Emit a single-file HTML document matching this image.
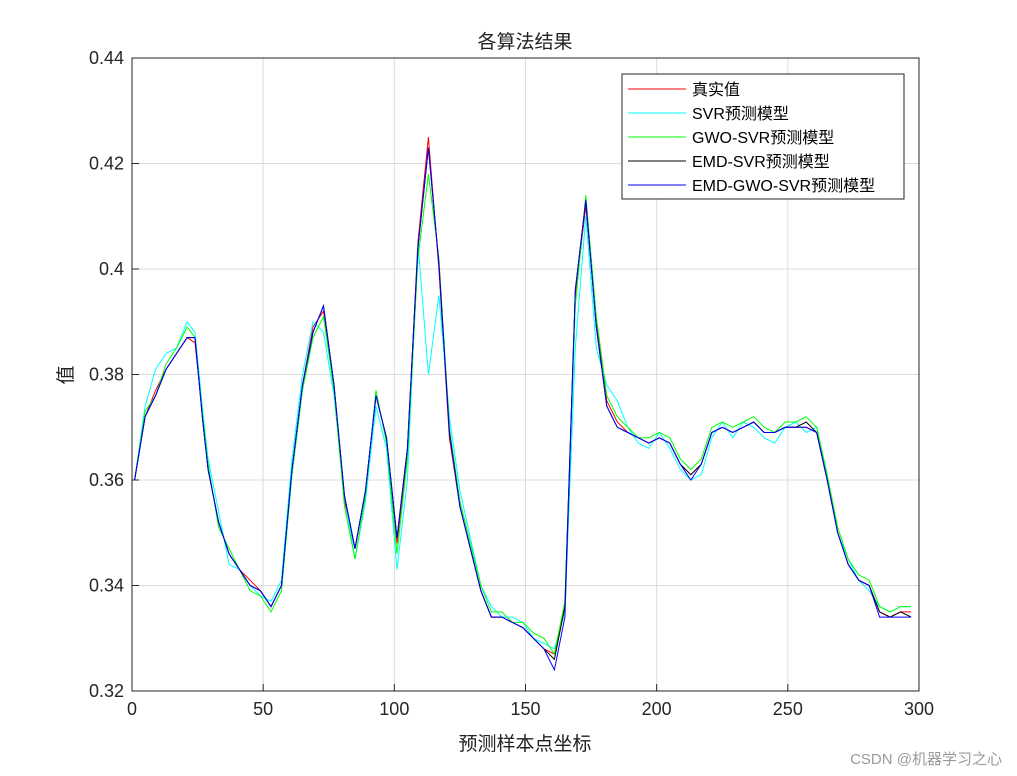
<!DOCTYPE html>
<html><head><meta charset="utf-8"><style>
body{margin:0;background:#fff;}
svg{display:block;font-family:"Liberation Sans","Noto Sans CJK SC",sans-serif;}
</style></head><body>
<svg id="chart" width="1017" height="776">
<rect x="0" y="0" width="1017" height="776" fill="#fff"/>
<rect x="132" y="58" width="787" height="633" fill="#fff" stroke="none"/>
<g id="grid"></g>
<g id="series"></g>
<rect x="132" y="58" width="787" height="633" fill="none" stroke="#262626" stroke-width="1"/>
<g id="ticks"></g>
<text x="525" y="48" text-anchor="middle" font-size="19" fill="#222">各算法结果</text>
<text x="525" y="750" text-anchor="middle" font-size="19" fill="#222">预测样本点坐标</text>
<text x="72" y="375" text-anchor="middle" font-size="19" fill="#222" transform="rotate(-90 72 375)">值</text>
<g id="legend">
<rect x="622" y="74" width="282" height="125" fill="#fff" stroke="#262626" stroke-width="1"/>
</g>
<text x="1002" y="764" text-anchor="end" font-size="15" fill="#9a9a9a">CSDN @机器学习之心</text>
</svg>
<script>
const xs=[1,5,9,13,17,21,24,27,29,33,37,41,45,49,53,57,61,65,69,73,77,81,85,89,93,97,101,105,109,113,117,121,125,129,133,137,141,145,149,153,157,161,165,169,173,177,181,185,189,193,197,201,205,209,213,217,221,225,229,233,237,241,245,249,253,257,261,265,269,273,277,281,285,289,293,297];
const trueVals=[0.360,0.372,0.377,0.381,0.384,0.387,0.386,0.372,0.362,0.352,0.346,0.343,0.341,0.339,0.336,0.340,0.362,0.378,0.389,0.392,0.378,0.356,0.347,0.358,0.376,0.368,0.348,0.365,0.405,0.425,0.400,0.368,0.355,0.347,0.339,0.334,0.334,0.333,0.332,0.330,0.328,0.327,0.336,0.395,0.412,0.390,0.375,0.371,0.369,0.368,0.367,0.368,0.367,0.363,0.361,0.363,0.369,0.370,0.369,0.370,0.371,0.369,0.369,0.370,0.370,0.370,0.369,0.360,0.350,0.344,0.341,0.340,0.335,0.334,0.335,0.335];
const svrVals=[0.360,0.374,0.381,0.384,0.385,0.390,0.388,0.373,0.364,0.354,0.344,0.343,0.340,0.338,0.337,0.341,0.364,0.380,0.390,0.388,0.376,0.357,0.345,0.356,0.374,0.366,0.343,0.360,0.405,0.380,0.395,0.372,0.358,0.349,0.340,0.336,0.334,0.334,0.333,0.330,0.329,0.328,0.335,0.385,0.410,0.385,0.378,0.375,0.370,0.367,0.366,0.369,0.366,0.362,0.360,0.361,0.368,0.371,0.368,0.371,0.370,0.368,0.367,0.370,0.371,0.369,0.370,0.361,0.350,0.345,0.341,0.339,0.336,0.335,0.336,0.336];
const gwoVals=[0.360,0.373,0.376,0.382,0.385,0.389,0.387,0.372,0.363,0.351,0.347,0.343,0.339,0.338,0.335,0.339,0.361,0.377,0.387,0.391,0.377,0.355,0.345,0.357,0.377,0.367,0.346,0.364,0.402,0.418,0.402,0.370,0.356,0.348,0.340,0.335,0.335,0.333,0.333,0.331,0.330,0.327,0.337,0.393,0.414,0.391,0.376,0.372,0.370,0.368,0.368,0.369,0.368,0.364,0.362,0.364,0.370,0.371,0.370,0.371,0.372,0.370,0.369,0.371,0.371,0.372,0.370,0.361,0.351,0.345,0.342,0.341,0.336,0.335,0.336,0.336];
const emdVals=[0.360,0.372,0.376,0.381,0.384,0.387,0.387,0.371,0.362,0.352,0.346,0.343,0.340,0.339,0.336,0.340,0.362,0.378,0.388,0.393,0.378,0.357,0.347,0.358,0.376,0.368,0.349,0.366,0.404,0.423,0.401,0.369,0.355,0.347,0.339,0.334,0.334,0.333,0.332,0.330,0.328,0.326,0.336,0.396,0.413,0.389,0.374,0.370,0.369,0.368,0.367,0.368,0.367,0.363,0.361,0.363,0.369,0.370,0.369,0.370,0.371,0.369,0.369,0.370,0.370,0.371,0.369,0.360,0.350,0.344,0.341,0.340,0.335,0.334,0.335,0.334];
const egsVals=[0.360,0.372,0.376,0.381,0.384,0.387,0.387,0.371,0.362,0.352,0.346,0.343,0.340,0.339,0.336,0.340,0.362,0.378,0.388,0.393,0.378,0.357,0.347,0.358,0.376,0.368,0.349,0.366,0.404,0.423,0.401,0.369,0.355,0.347,0.339,0.334,0.334,0.333,0.332,0.330,0.328,0.324,0.334,0.396,0.413,0.389,0.374,0.370,0.369,0.368,0.367,0.368,0.367,0.363,0.360,0.363,0.369,0.370,0.369,0.370,0.371,0.369,0.369,0.370,0.370,0.370,0.369,0.360,0.350,0.344,0.341,0.340,0.334,0.334,0.334,0.334];
const xTicks=[0,50,100,150,200,250,300];
const yTicks=[0.32,0.34,0.36,0.38,0.40,0.42,0.44];
const yTickLabels=["0.32","0.34","0.36","0.38","0.4","0.42","0.44"];
const seriesNames=["真实值","SVR预测模型","GWO-SVR预测模型","EMD-SVR预测模型","EMD-GWO-SVR预测模型"];

const NS="http://www.w3.org/2000/svg";
const X0=132,X1=919,Y0=691,Y1=58;
const sx=v=>X0+(v-0)/(300-0)*(X1-X0);
const sy=v=>Y0-(v-0.32)/(0.44-0.32)*(Y0-Y1);
function mk(tag,attrs,parent){const e=document.createElementNS(NS,tag);for(const k in attrs)e.setAttribute(k,attrs[k]);parent.appendChild(e);return e;}
const grid=document.getElementById('grid'),ticks=document.getElementById('ticks');
xTicks.forEach(t=>{
  const x=sx(t);
  const g=mk('line',{x1:x,x2:x,y1:Y1,y2:Y0,stroke:'#dcdcdc','stroke-width':1},grid);
  
  
  const tk=mk('line',{x1:x,x2:x,y1:Y0,y2:Y0-7,stroke:'#262626'},ticks);
  
  
  const tx=mk('text',{x:x,y:Y0+24,'text-anchor':'middle','font-size':18,fill:'#262626'},ticks);
  tx.textContent=t;
  
  
});
yTicks.forEach((t,i)=>{
  const y=sy(t);
  const g=mk('line',{x1:X0,x2:X1,y1:y,y2:y,stroke:'#dcdcdc','stroke-width':1},grid);
  
  
  const tk=mk('line',{x1:X0,x2:X0+7,y1:y,y2:y,stroke:'#262626'},ticks);
  
  
  const tx=mk('text',{x:X0-8,y:y+6,'text-anchor':'end','font-size':18,fill:'#262626'},ticks);
  tx.textContent=yTickLabels[i];
  
  
});
const allSeries=[trueVals,svrVals,gwoVals,emdVals,egsVals];
const colors=['#ff0000','#00ffff','#00ff00','#000000','#0000ff'];
const ids=['series-true','series-svr','series-gwo-svr','series-emd-svr','series-emd-gwo-svr'];
const sg=document.getElementById('series');
allSeries.forEach((vals,si)=>{
  const d=vals.map((v,i)=>(i?'L':'M')+sx(xs[i]).toFixed(1)+' '+sy(v).toFixed(1)).join(' ');
  const p=mk('path',{d:d,fill:'none',stroke:colors[si],'stroke-width':1},sg);
  
  
});
const lg=document.getElementById('legend');
seriesNames.forEach((n,i)=>{
  const y=89+i*24;
  const l=mk('line',{x1:628,x2:686,y1:y,y2:y,stroke:colors[i],'stroke-width':1},lg);
  
  
  const t=mk('text',{x:692,y:y+6,'font-size':16,fill:'#000'},lg);
  t.textContent=n;
  
  
});
</script>
</body></html>
